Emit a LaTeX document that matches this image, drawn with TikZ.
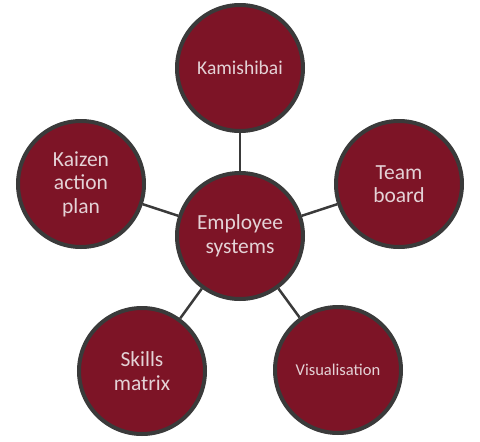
\documentclass[tikz,border=0pt]{standalone}
\usepackage{fontspec}
\setmainfont{Carlito}
\usepackage{tikz}
\usetikzlibrary{shadows}
\definecolor{kaizenred}{RGB}{125,20,38}
\definecolor{rimgrey}{RGB}{58,58,58}
\definecolor{labelpink}{RGB}{228,210,214}

\begin{document}
\begin{tikzpicture}[x=1pt, y=-1pt,
    hub/.style={circle, draw=rimgrey, line width=4pt, fill=kaizenred,
      minimum size=126pt, inner sep=0pt, align=center, text=labelpink,
      drop shadow={opacity=0.2, shadow xshift=0pt, shadow yshift=-2pt},
      font=\fontsize{21.5}{23.5}\selectfont},
    spoke/.style={line width=2.5pt, color=rimgrey}]
      \useasboundingbox (0,0) rectangle (480,442);
      \node[hub] (employee) at (240,236) {Employee\\systems};
      \node[hub, font=\fontsize{19.5}{22}\selectfont] (kamishibai) at (240,68) {Kamishibai};
      \node[hub] (teamboard) at (399,184) {Team\\board};
      \node[hub, font=\fontsize{16.5}{19}\selectfont] (visual) at (338,370) {Visualisation};
      \node[hub] (skills) at (142,371) {Skills\\matrix};
      \node[hub] (kaizen) at (81,184) {Kaizen\\action\\plan};
      \draw[spoke] (employee) -- (kamishibai);
      \draw[spoke] (employee) -- (teamboard);
      \draw[spoke] (employee) -- (visual);
      \draw[spoke] (employee) -- (skills);
      \draw[spoke] (employee) -- (kaizen);
    \end{tikzpicture}
\end{document}
